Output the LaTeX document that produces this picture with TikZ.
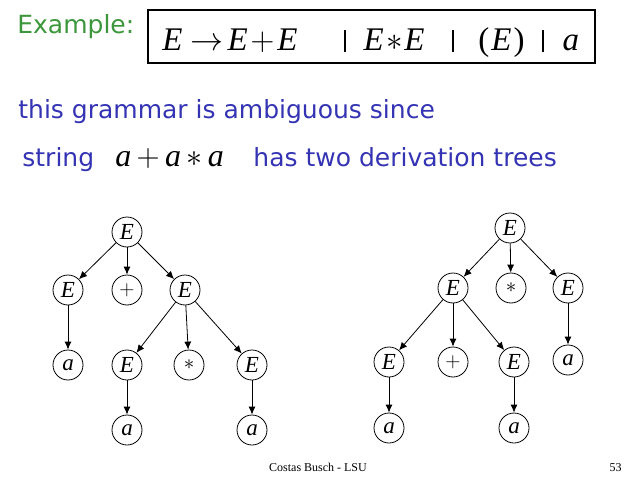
\RequirePackage{fix-cm}
\documentclass[tikz,border=0pt]{standalone}
\usepackage{fontspec}
\setmainfont{Liberation Serif}
\newfontfamily\comic{DejaVu Sans}
\usetikzlibrary{arrows.meta}
\definecolor{slideblue}{RGB}{51,51,180}
\definecolor{slidegreen}{RGB}{60,150,60}
\newcommand{\gbar}{\rule[-2pt]{2pt}{22pt}}

\begin{document}
\begin{tikzpicture}[x=1pt,y=-1pt,>={Latex[length=8pt,width=7pt]},line width=0.8pt,
    tn/.style={draw,circle,minimum size=30pt,inner sep=0pt,font=\fontsize{23}{23}\selectfont\itshape},
    op/.style={draw,circle,minimum size=30pt,inner sep=0pt,font=\fontsize{21}{21}\selectfont},
    say/.style={anchor=base west,inner sep=0pt,text=slideblue,font=\comic\fontsize{25}{25}\selectfont}]
    \useasboundingbox (0,0) rectangle (638,479);
    % heading and grammar
    \node (ex) at (17,33) [say,text=slidegreen] {Example:};
    \draw [line width=1.1pt] (148,10) rectangle (595,63);
    \node (gram) at (162,50) [anchor=base west,inner sep=0pt,font=\fontsize{33}{33}\selectfont]
        {\textit{E}\hspace{8pt}$\rightarrow$\hspace{4pt}\textit{E}\hspace{3pt}$+$\hspace{3pt}\textit{E}\hspace{46pt}\gbar\hspace{18pt}\textit{E}\hspace{3pt}$\ast$\hspace{1pt}\textit{E}\hspace{28pt}\gbar\hspace{24pt}(\hspace{2pt}\textit{E}\hspace{2pt})\hspace{17pt}\gbar\hspace{19pt}\textit{a}};
    \node (l1) at (18,118) [say] {this grammar is ambiguous since};
    \node (l2a) at (22,166) [say] {string};
    \node (l2b) at (115,166) [anchor=base west,inner sep=0pt,font=\fontsize{32}{32}\selectfont] {\textit{a}\,$+$\,\textit{a}\,$\ast$\,\textit{a}};
    \node (l2c) at (253,166) [say] {has two derivation trees};
    % left tree
    \node (lE) at (127,232) [tn] {E};
    \node (lE1) at (68,290) [tn] {E};
    \node (lplus) at (127,290) [op] {$+$};
    \node (lE2) at (185,290) [tn] {E};
    \node (la1) at (68,365) [tn] {a};
    \node (lE3) at (127,365) [tn] {E};
    \node (lstar) at (189,365) [op] {$\ast$};
    \node (lE4) at (252,365) [tn] {E};
    \node (la2) at (127,430) [tn] {a};
    \node (la3) at (252,430) [tn] {a};
    \draw [->] (lE) -- (lE1);
    \draw [->] (lE) -- (lplus);
    \draw [->] (lE) -- (lE2);
    \draw [->] (lE1) -- (la1);
    \draw [->] (lE2) -- (lE3);
    \draw [->] (lE2) -- (lstar);
    \draw [->] (lE2) -- (lE4);
    \draw [->] (lE3) -- (la2);
    \draw [->] (lE4) -- (la3);
    % right tree
    \node (rE) at (510,228) [tn] {E};
    \node (rE1) at (453,288) [tn] {E};
    \node (rstar) at (511,288) [op] {$\ast$};
    \node (rE2) at (568,288) [tn] {E};
    \node (rE3) at (389,362) [tn] {E};
    \node (rplus) at (453,362) [op] {$+$};
    \node (rE4) at (514,362) [tn] {E};
    \node (ra1) at (568,360) [tn] {a};
    \node (ra2) at (389,428) [tn] {a};
    \node (ra3) at (514,428) [tn] {a};
    \draw [->] (rE) -- (rE1);
    \draw [->] (rE) -- (rstar);
    \draw [->] (rE) -- (rE2);
    \draw [->] (rE1) -- (rE3);
    \draw [->] (rE1) -- (rplus);
    \draw [->] (rE1) -- (rE4);
    \draw [->] (rE2) -- (ra1);
    \draw [->] (rE3) -- (ra2);
    \draw [->] (rE4) -- (ra3);
    % footer
    \node (foot) at (318,471) [anchor=base,inner sep=0pt,font=\fontsize{12}{12}\selectfont] {Costas Busch - LSU};
    \node (page) at (622,471) [anchor=base east,inner sep=0pt,font=\fontsize{12}{12}\selectfont] {53};
\end{tikzpicture}
\end{document}
